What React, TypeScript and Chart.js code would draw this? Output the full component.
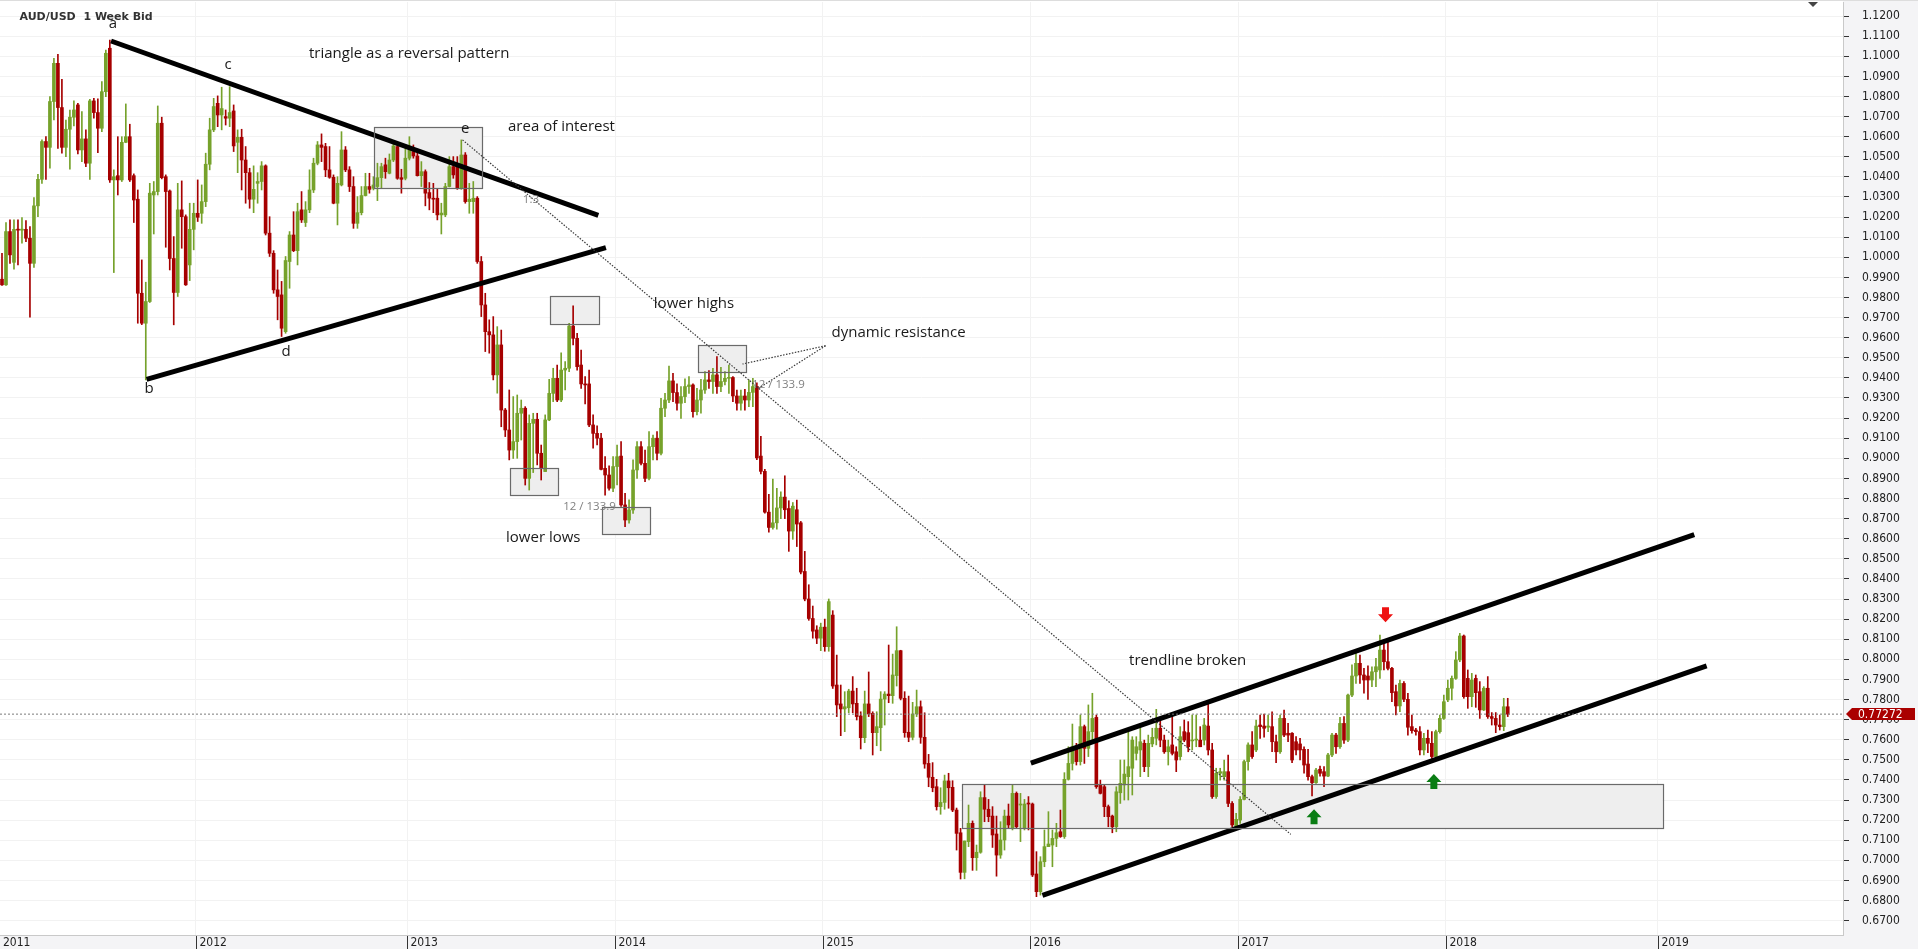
import React, { useEffect, useRef } from 'react';
import { Chart, registerables } from 'chart.js';

Chart.register(...registerables);

// ---------- DATA ----------
// Weekly AUD/USD bid candles: [open, high, low, close]; week index counted from the week of 2 Jan 2011
type Candle = [number, number, number, number];
const FIRST_WEEK = 3;

const weeks2011: Candle[] = [
  [0.9891,1.0020,0.9860,0.9863],[0.9863,1.0173,0.9860,1.0128],[1.0128,1.0186,0.9970,1.0012],[0.9975,1.0186,0.9941,1.0139],
  [1.0139,1.0186,0.9962,1.0135],[1.0135,1.0198,1.0070,1.0140],[1.0139,1.0183,1.0078,1.0095],[1.0095,1.0153,0.9702,0.9970],
  [0.9970,1.0297,0.9950,1.0256],[1.0256,1.0413,1.0202,1.0388],[1.0388,1.0584,1.0368,1.0576],[1.0576,1.0600,1.0388,1.0547],
  [1.0547,1.0799,1.0443,1.0775],[1.0775,1.0990,1.0683,1.0965],[1.0965,1.1010,1.0542,1.0745],[1.0745,1.0886,1.0518,1.0547],
  [1.0547,1.0683,1.0501,1.0637],[1.0637,1.0733,1.0438,1.0697],[1.0697,1.0778,1.0653,1.0733],[1.0758,1.0766,1.0514,1.0534],
  [1.0534,1.0725,1.0476,1.0589],[1.0589,1.0634,1.0451,1.0468],[1.0468,1.0786,1.0388,1.0778],[1.0778,1.0791,1.0692,1.0720],
  [1.0720,1.0788,1.0521,1.0642],[1.0642,1.0874,1.0625,1.0824],[1.0824,1.1031,1.0799,1.1015],[1.1040,1.1081,1.0372,1.0385],
  [1.0385,1.0435,0.9924,1.0401],[1.0406,1.0600,1.0310,1.0385],[1.0385,1.0600,1.0377,1.0572],[1.0572,1.0763,1.0570,1.0600],
  [1.0600,1.0662,1.0377,1.0385],[1.0406,1.0415,1.0173,1.0285],[1.0289,1.0335,0.9672,0.9821],[0.9821,0.9987,0.9665,0.9672],
  [0.9672,0.9876,0.9390,0.9780],[0.9780,1.0368,0.9775,1.0319],[1.0310,1.0377,1.0116,1.0327],[1.0327,1.0753,1.0310,1.0667],
  [1.0667,1.0697,1.0390,1.0396],[1.0401,1.0410,1.0050,1.0327],[1.0330,1.0335,0.9937,0.9994],[0.9994,1.0103,0.9664,0.9825],
  [0.9825,1.0368,0.9805,1.0236],[1.0236,1.0380,1.0045,1.0202],[1.0202,1.0211,0.9860,0.9863],[0.9962,1.0269,0.9884,1.0139],
  [1.0139,1.0269,1.0037,1.0219],
];

const weeks2012: Candle[] = [
  [1.0219,1.0385,1.0178,1.0199],[1.0219,1.0360,1.0169,1.0277],[1.0277,1.0518,1.0252,1.0463],[1.0463,1.0692,1.0435,1.0634],
  [1.0634,1.0791,1.0625,1.0750],[1.0766,1.0803,1.0650,1.0708],[1.0708,1.0846,1.0634,1.0740],[1.0700,1.0733,1.0658,1.0692],
  [1.0692,1.0849,1.0650,1.0720],[1.0728,1.0758,1.0526,1.0554],[1.0572,1.0634,1.0421,1.0597],[1.0597,1.0637,1.0335,1.0484],
  [1.0484,1.0551,1.0269,1.0421],[1.0421,1.0443,1.0244,1.0289],[1.0289,1.0455,1.0222,1.0338],[1.0368,1.0421,1.0269,1.0377],
  [1.0377,1.0476,1.0335,1.0455],[1.0455,1.0460,1.0111,1.0120],[1.0120,1.0202,1.0004,1.0020],[1.0020,1.0033,0.9821,0.9838],
  [0.9838,0.9937,0.9689,0.9805],[0.9813,0.9880,0.9606,0.9647],[0.9630,1.0004,0.9622,0.9984],[0.9979,1.0128,0.9846,1.0111],
  [1.0111,1.0227,1.0028,1.0033],[1.0033,1.0269,0.9962,1.0227],[1.0236,1.0327,1.0173,1.0186],[1.0173,1.0277,1.0153,1.0236],
  [1.0236,1.0435,1.0222,1.0335],[1.0335,1.0493,1.0322,1.0468],[1.0468,1.0576,1.0460,1.0559],[1.0559,1.0614,1.0476,1.0547],
  [1.0551,1.0567,1.0401,1.0435],[1.0435,1.0551,1.0393,1.0398],[1.0398,1.0410,1.0266,1.0269],[1.0269,1.0401,1.0161,1.0368],
  [1.0360,1.0625,1.0355,1.0534],[1.0534,1.0551,1.0426,1.0435],[1.0435,1.0451,1.0327,1.0352],[1.0352,1.0401,1.0144,1.0169],
  [1.0169,1.0302,1.0144,1.0222],[1.0222,1.0352,1.0211,1.0307],[1.0307,1.0418,1.0305,1.0352],[1.0352,1.0418,1.0319,1.0338],
  [1.0343,1.0401,1.0335,1.0360],[1.0352,1.0468,1.0282,1.0396],[1.0396,1.0468,1.0343,1.0451],[1.0460,1.0493,1.0393,1.0426],
  [1.0418,1.0514,1.0415,1.0484],[1.0484,1.0567,1.0476,1.0554],[1.0551,1.0559,1.0388,1.0393],[1.0396,1.0438,1.0319,1.0388],
  [1.0393,1.0542,1.0385,1.0493],
];

const weeks2013: Candle[] = [
  [1.0493,1.0600,1.0484,1.0534],[1.0526,1.0559,1.0493,1.0504],[1.0504,1.0518,1.0404,1.0406],[1.0406,1.0476,1.0352,1.0426],
  [1.0426,1.0435,1.0256,1.0319],[1.0322,1.0372,1.0236,1.0294],[1.0294,1.0368,1.0222,1.0289],[1.0294,1.0338,1.0186,1.0211],
  [1.0211,1.0269,1.0116,1.0220],[1.0211,1.0368,1.0202,1.0352],[1.0352,1.0501,1.0350,1.0451],[1.0451,1.0501,1.0393,1.0410],
  [1.0455,1.0501,1.0338,1.0343],[1.0343,1.0584,1.0338,1.0509],[1.0509,1.0521,1.0269,1.0277],[1.0277,1.0368,1.0219,1.0289],
  [1.0277,1.0377,1.0219,1.0294],[1.0294,1.0302,0.9970,0.9979],[0.9979,1.0004,0.9705,0.9763],[0.9763,0.9821,0.9531,0.9630],
  [0.9630,0.9689,0.9523,0.9614],[0.9614,0.9705,0.9390,0.9415],[0.9415,0.9655,0.9324,0.9564],[0.9564,0.9638,0.9157,0.9240],
  [0.9240,0.9248,0.9108,0.9141],[0.9141,0.9340,0.8992,0.9041],[0.9041,0.9307,0.8999,0.9083],[0.9083,0.9315,0.9000,0.9224],
  [0.9224,0.9290,0.9091,0.9249],[0.9249,0.9257,0.8867,0.8900],[0.8900,0.9216,0.8842,0.9174],[0.9174,0.9224,0.8929,0.9194],
  [0.9194,0.9224,0.8967,0.9025],[0.9025,0.9066,0.8892,0.8950],[0.8934,0.9216,0.8934,0.9191],[0.9191,0.9393,0.9187,0.9323],
  [0.9323,0.9448,0.9282,0.9398],[0.9398,0.9464,0.9282,0.9290],[0.9290,0.9525,0.9282,0.9439],[0.9439,0.9481,0.9340,0.9448],
  [0.9448,0.9671,0.9431,0.9658],[0.9658,0.9758,0.9564,0.9597],[0.9597,0.9622,0.9439,0.9456],[0.9464,0.9539,0.9348,0.9370],
  [0.9370,0.9406,0.9270,0.9365],[0.9370,0.9439,0.9157,0.9166],[0.9166,0.9216,0.9050,0.9124],[0.9124,0.9161,0.9066,0.9100],
  [0.9100,0.9124,0.8942,0.8945],[0.8950,0.9008,0.8817,0.8917],[0.8917,0.8962,0.8842,0.8851],[0.8851,0.9008,0.8834,0.8959],
];

const weeks2014: Candle[] = [
  [0.8959,0.9066,0.8867,0.9008],[0.9011,0.9083,0.8760,0.8768],[0.8768,0.8826,0.8660,0.8693],[0.8693,0.8793,0.8677,0.8743],
  [0.8743,0.8992,0.8726,0.8942],[0.8942,0.9083,0.8900,0.9058],[0.9058,0.9083,0.8967,0.8975],[0.8975,0.9041,0.8884,0.8900],
  [0.8900,0.9133,0.8892,0.9058],[0.9058,0.9116,0.8992,0.9100],[0.9100,0.9133,0.8992,0.9025],[0.9025,0.9298,0.9017,0.9249],
  [0.9249,0.9323,0.9207,0.9290],[0.9290,0.9459,0.9277,0.9385],[0.9385,0.9423,0.9282,0.9327],[0.9327,0.9370,0.9240,0.9274],
  [0.9274,0.9357,0.9199,0.9307],[0.9307,0.9395,0.9277,0.9357],[0.9357,0.9406,0.9323,0.9365],[0.9365,0.9370,0.9204,0.9232],
  [0.9232,0.9348,0.9216,0.9290],[0.9290,0.9393,0.9224,0.9340],[0.9340,0.9431,0.9323,0.9390],[0.9390,0.9436,0.9348,0.9382],
  [0.9382,0.9448,0.9323,0.9415],[0.9415,0.9506,0.9323,0.9357],[0.9357,0.9453,0.9332,0.9382],[0.9382,0.9431,0.9365,0.9398],
  [0.9398,0.9464,0.9323,0.9402],[0.9402,0.9406,0.9282,0.9310],[0.9310,0.9340,0.9240,0.9274],[0.9274,0.9340,0.9240,0.9310],
  [0.9310,0.9343,0.9240,0.9290],[0.9290,0.9390,0.9257,0.9328],[0.9328,0.9398,0.9257,0.9357],[0.9358,0.9375,0.8993,0.9002],
  [0.9011,0.9109,0.8922,0.8935],[0.8935,0.8945,0.8727,0.8732],[0.8732,0.8821,0.8633,0.8656],[0.8656,0.8896,0.8647,0.8679],
  [0.8679,0.8851,0.8647,0.8753],[0.8753,0.8833,0.8700,0.8807],[0.8807,0.8913,0.8700,0.8744],[0.8750,0.8789,0.8537,0.8638],
  [0.8638,0.8780,0.8597,0.8762],[0.8744,0.8792,0.8561,0.8673],[0.8679,0.8686,0.8425,0.8434],[0.8437,0.8537,0.8291,0.8300],
  [0.8300,0.8371,0.8194,0.8203],[0.8203,0.8265,0.8105,0.8140],[0.8146,0.8167,0.8078,0.8105],[0.8105,0.8180,0.8043,0.8160],
];

const weeks2015: Candle[] = [
  [0.8160,0.8200,0.8040,0.8063],[0.8063,0.8300,0.8040,0.8287],[0.8220,0.8242,0.7855,0.7867],[0.7872,0.8021,0.7715,0.7773],
  [0.7778,0.7872,0.7620,0.7753],[0.7753,0.7839,0.7640,0.7764],[0.7759,0.7851,0.7734,0.7842],[0.7842,0.7914,0.7734,0.7778],
  [0.7781,0.7856,0.7698,0.7715],[0.7718,0.7739,0.7554,0.7610],[0.7610,0.7842,0.7585,0.7778],[0.7778,0.7937,0.7715,0.7728],
  [0.7731,0.7739,0.7524,0.7635],[0.7635,0.7739,0.7570,0.7665],[0.7660,0.7839,0.7545,0.7802],[0.7802,0.7839,0.7673,0.7827],
  [0.7827,0.8071,0.7784,0.7819],[0.7819,0.8026,0.7781,0.7922],[0.7919,0.8162,0.7867,0.8043],[0.8043,0.8045,0.7798,0.7806],
  [0.7806,0.7839,0.7612,0.7635],[0.7637,0.7817,0.7590,0.7612],[0.7612,0.7786,0.7599,0.7728],[0.7728,0.7847,0.7715,0.7764],
  [0.7764,0.7793,0.7582,0.7612],[0.7612,0.7734,0.7458,0.7479],[0.7482,0.7527,0.7366,0.7413],[0.7413,0.7486,0.7341,0.7361],
  [0.7366,0.7403,0.7250,0.7267],[0.7267,0.7361,0.7229,0.7288],[0.7288,0.7424,0.7254,0.7395],[0.7395,0.7433,0.7259,0.7361],
  [0.7363,0.7396,0.7242,0.7250],[0.7250,0.7260,0.7051,0.7134],[0.7137,0.7159,0.6907,0.6940],[0.6940,0.7096,0.6908,0.7096],
  [0.7093,0.7275,0.7068,0.7184],[0.7184,0.7196,0.6950,0.7013],[0.7013,0.7076,0.6950,0.7040],[0.7040,0.7341,0.7035,0.7312],
  [0.7312,0.7375,0.7192,0.7254],[0.7254,0.7303,0.7192,0.7217],[0.7220,0.7267,0.7064,0.7126],[0.7131,0.7220,0.6921,0.7026],
  [0.7026,0.7192,0.7010,0.7101],[0.7101,0.7250,0.7051,0.7220],[0.7220,0.7280,0.7159,0.7176],[0.7159,0.7375,0.7151,0.7333],
  [0.7333,0.7340,0.7159,0.7167],[0.7275,0.7333,0.7093,0.7280],[0.7159,0.7303,0.7151,0.7280],[0.7283,0.7317,0.7151,0.7280],
];

const weeks2016: Candle[] = [
  [0.7280,0.7285,0.6919,0.6927],[0.6932,0.7043,0.6819,0.6844],[0.6844,0.7018,0.6827,0.6993],[0.6993,0.7151,0.6968,0.7068],
  [0.7068,0.7242,0.7068,0.7081],[0.7076,0.7151,0.6968,0.7109],[0.7109,0.7184,0.7068,0.7137],[0.7142,0.7250,0.7114,0.7118],
  [0.7118,0.7436,0.7109,0.7403],[0.7403,0.7565,0.7399,0.7482],[0.7482,0.7678,0.7449,0.7565],[0.7565,0.7582,0.7474,0.7491],
  [0.7491,0.7723,0.7474,0.7665],[0.7665,0.7673,0.7482,0.7557],[0.7557,0.7773,0.7516,0.7640],[0.7640,0.7831,0.7582,0.7706],
  [0.7711,0.7723,0.7358,0.7366],[0.7375,0.7399,0.7330,0.7333],[0.7366,0.7375,0.7217,0.7267],[0.7267,0.7275,0.7167,0.7217],
  [0.7220,0.7225,0.7137,0.7167],[0.7167,0.7366,0.7142,0.7341],[0.7336,0.7499,0.7283,0.7383],[0.7375,0.7499,0.7300,0.7429],
  [0.7416,0.7648,0.7300,0.7466],[0.7458,0.7615,0.7325,0.7598],[0.7532,0.7615,0.7499,0.7565],[0.7549,0.7665,0.7416,0.7590],
  [0.7582,0.7598,0.7441,0.7466],[0.7466,0.7623,0.7416,0.7582],[0.7579,0.7657,0.7565,0.7612],[0.7607,0.7751,0.7574,0.7657],
  [0.7657,0.7698,0.7565,0.7598],[0.7598,0.7623,0.7532,0.7540],[0.7540,0.7598,0.7474,0.7565],[0.7574,0.7723,0.7524,0.7532],
  [0.7540,0.7565,0.7441,0.7499],[0.7516,0.7665,0.7499,0.7615],[0.7640,0.7698,0.7590,0.7598],[0.7635,0.7690,0.7540,0.7565],
  [0.7594,0.7723,0.7549,0.7598],[0.7598,0.7723,0.7565,0.7600],[0.7598,0.7665,0.7565,0.7565],[0.7598,0.7706,0.7574,0.7673],
  [0.7668,0.7778,0.7524,0.7549],[0.7549,0.7582,0.7308,0.7317],[0.7317,0.7458,0.7308,0.7433],[0.7433,0.7458,0.7399,0.7441],
  [0.7416,0.7499,0.7399,0.7441],[0.7441,0.7524,0.7267,0.7283],[0.7283,0.7292,0.7167,0.7176],[0.7167,0.7234,0.7159,0.7204],
];

const weeks2017: Candle[] = [
  [0.7200,0.7317,0.7184,0.7303],[0.7303,0.7499,0.7300,0.7491],[0.7491,0.7585,0.7449,0.7574],[0.7574,0.7640,0.7507,0.7516],
  [0.7549,0.7698,0.7540,0.7668],[0.7673,0.7723,0.7607,0.7665],[0.7668,0.7728,0.7612,0.7657],[0.7662,0.7723,0.7640,0.7668],
  [0.7665,0.7739,0.7540,0.7590],[0.7590,0.7623,0.7486,0.7540],[0.7540,0.7723,0.7532,0.7706],[0.7706,0.7748,0.7615,0.7623],
  [0.7632,0.7681,0.7590,0.7623],[0.7632,0.7635,0.7486,0.7499],[0.7590,0.7615,0.7524,0.7549],[0.7579,0.7607,0.7499,0.7549],
  [0.7552,0.7565,0.7433,0.7474],[0.7479,0.7552,0.7399,0.7416],[0.7416,0.7424,0.7320,0.7386],[0.7386,0.7458,0.7383,0.7449],
  [0.7453,0.7469,0.7419,0.7433],[0.7441,0.7466,0.7366,0.7419],[0.7419,0.7532,0.7416,0.7524],[0.7524,0.7632,0.7516,0.7623],
  [0.7623,0.7632,0.7532,0.7565],[0.7565,0.7711,0.7557,0.7681],[0.7681,0.7715,0.7582,0.7598],[0.7598,0.7827,0.7590,0.7822],
  [0.7822,0.7972,0.7814,0.7917],[0.7917,0.8030,0.7880,0.7980],[0.7980,0.8021,0.7880,0.7922],[0.7922,0.7955,0.7831,0.7897],
  [0.7917,0.7967,0.7801,0.7897],[0.7897,0.7963,0.7864,0.7938],[0.7938,0.8005,0.7864,0.7963],[0.7947,0.8121,0.7905,0.8046],
  [0.8046,0.8088,0.7947,0.7988],[0.7988,0.8088,0.7947,0.7955],[0.7955,0.7960,0.7789,0.7834],[0.7839,0.7872,0.7723,0.7768],
  [0.7768,0.7897,0.7739,0.7880],[0.7880,0.7889,0.7789,0.7801],[0.7801,0.7831,0.7623,0.7662],[0.7665,0.7723,0.7632,0.7645],
  [0.7648,0.7657,0.7623,0.7640],[0.7640,0.7665,0.7524,0.7549],[0.7549,0.7632,0.7524,0.7607],[0.7607,0.7648,0.7535,0.7582],
  [0.7582,0.7640,0.7507,0.7516],[0.7516,0.7648,0.7507,0.7640],[0.7640,0.7723,0.7632,0.7706],[0.7706,0.7822,0.7701,0.7789],
];

const weeks2018: Candle[] = [
  [0.7798,0.7897,0.7789,0.7856],[0.7856,0.7917,0.7798,0.7905],[0.7905,0.8038,0.7900,0.7997],[0.7997,0.8129,0.7988,0.8116],
  [0.8116,0.8121,0.7806,0.7814],[0.7905,0.7947,0.7756,0.7814],[0.7814,0.7930,0.7764,0.7897],[0.7905,0.7922,0.7761,0.7834],
  [0.7839,0.7889,0.7706,0.7748],[0.7748,0.7864,0.7745,0.7856],[0.7856,0.7914,0.7706,0.7715],[0.7715,0.7735,0.7673,0.7706],
  [0.7706,0.7735,0.7635,0.7673],[0.7673,0.7723,0.7648,0.7665],[0.7665,0.7806,0.7645,0.7764],[0.7764,0.7806,0.7715,0.7727],
];

const lastPrice = 0.77272;

// Axis ticks
const priceTickMin = 0.67;
const priceTickMax = 1.12;
const firstYearLabel = '2011';
const yearTickWeeks = [51.5, 104.5, 156.5, 208.5, 260.5, 312.5, 364.5, 417.5];
const yearTickLabels = ['2012', '2013', '2014', '2015', '2016', '2017', '2018', '2019'];

// Drawing annotations (in week index / price units)
const triangleUpper = [[30.3, 1.1076], [152.3, 1.0209]];
const triangleLower = [[39.2, 0.9393], [154.2, 1.0048]];
const channelUpper = [[260.6, 0.7483], [426.7, 0.862]];
const channelLower = [[263.5, 0.6826], [429.8, 0.7967]];
const brokenTrend = [[118.3, 1.0584], [325.7, 0.7129]];
const resistanceLink1 = [[209.2, 0.956], [188.4, 0.9469]];
const resistanceLink2 = [[209.2, 0.956], [192.4, 0.9348]];

const boxX0 = [96.2, 140.3, 177.3, 130.3, 153.3, 243.4];
const boxX1 = [123.3, 152.4, 189.4, 142.3, 165.3, 418.8];
const boxTop = [1.0647, 0.9806, 0.9562, 0.895, 0.8756, 0.7378];
const boxBottom = [1.0343, 0.967, 0.9428, 0.8817, 0.8623, 0.7159];

const noteTexts = ['triangle as a reversal pattern', 'area of interest', 'lower highs', 'dynamic resistance', 'lower lows', 'trendline broken'];
const noteWeeks = [79.87, 129.7, 166.2, 210.7, 129.2, 285.2];
const notePrices = [1.1011, 1.0648, 0.9768, 0.9626, 0.8606, 0.7992];

const pointLetters = ['a', 'b', 'c', 'd', 'e'];
const letterWeeks = [30.8, 39.8, 59.6, 74.1, 119.0];
const letterPrices = [1.1161, 0.9344, 1.0956, 0.9529, 1.0638];

const ratioTexts = ['1:3', '12 / 133.9', '12 / 133.9'];
const ratioWeeks = [133.4, 143.5, 190.8];
const ratioPrices = [1.0285, 0.8758, 0.9364];

const arrowWeeks = [349.4, 331.5, 361.5];
const arrowPrices = [0.8184, 0.7254, 0.7429];
const arrowDirs = ['down', 'up', 'up'];

// ---------- STYLE ----------
const UP = '#76a22b';
const DOWN = '#a60000';
const AXIS_FONT = '"DejaVu Sans Condensed", "Liberation Sans Narrow", "DejaVu Sans", sans-serif';
const NOTE_FONT = '"Open Sans", "DejaVu Sans", sans-serif';

const candles: Candle[] = [
  ...weeks2011, ...weeks2012, ...weeks2013, ...weeks2014,
  ...weeks2015, ...weeks2016, ...weeks2017, ...weeks2018,
];

const X_MIN = 2.5;
const X_MAX = 463.94;
const Y_MIN = 0.66284;
const Y_MAX = 1.12701;

const toPts = (seg: number[][]) => seg.map(([x, y]) => ({ x, y }));

const overlay = {
  id: 'overlay',
  beforeDraw(chart: any) {
    const { ctx, chartArea: a, width, height } = chart;
    ctx.save();
    ctx.fillStyle = '#ffffff';
    ctx.fillRect(0, 0, width, height);
    ctx.fillStyle = '#f4f4f6';
    ctx.fillRect(a.right, 0, width - a.right, height);
    ctx.fillRect(0, a.bottom, width, height - a.bottom);
    ctx.restore();
  },
  beforeDatasetsDraw(chart: any) {
    const { ctx } = chart;
    const xs = chart.scales.x, ys = chart.scales.y;
    ctx.save();
    ctx.fillStyle = '#eeeeee';
    for (let i = 0; i < boxX0.length; i++) {
      const x0 = xs.getPixelForValue(boxX0[i]);
      const x1 = xs.getPixelForValue(boxX1[i]);
      const y0 = ys.getPixelForValue(boxTop[i]);
      const y1 = ys.getPixelForValue(boxBottom[i]);
      ctx.fillRect(x0, y0, x1 - x0, y1 - y0);
    }
    ctx.restore();
  },
  afterDatasetsDraw(chart: any) {
    const { ctx, chartArea: a, width, height } = chart;
    const xs = chart.scales.x, ys = chart.scales.y;
    ctx.save();
    // box borders
    ctx.strokeStyle = '#6a6a6a';
    ctx.lineWidth = 1.2;
    for (let i = 0; i < boxX0.length; i++) {
      const x0 = Math.round(xs.getPixelForValue(boxX0[i])) + 0.5;
      const x1 = Math.round(xs.getPixelForValue(boxX1[i])) + 0.5;
      const y0 = Math.round(ys.getPixelForValue(boxTop[i])) + 0.5;
      const y1 = Math.round(ys.getPixelForValue(boxBottom[i])) + 0.5;
      ctx.strokeRect(x0, y0, x1 - x0, y1 - y0);
    }
    // notes
    ctx.fillStyle = '#1a1a1a';
    ctx.font = `15px ${NOTE_FONT}`;
    ctx.textAlign = 'left';
    ctx.textBaseline = 'middle';
    noteTexts.forEach((t, i) => {
      ctx.fillText(t, xs.getPixelForValue(noteWeeks[i]), ys.getPixelForValue(notePrices[i]));
    });
    ctx.textAlign = 'center';
    pointLetters.forEach((t, i) => {
      ctx.fillText(t, xs.getPixelForValue(letterWeeks[i]), ys.getPixelForValue(letterPrices[i]));
    });
    ctx.fillStyle = '#808080';
    ctx.font = `11.5px ${NOTE_FONT}`;
    ctx.textAlign = 'left';
    ratioTexts.forEach((t, i) => {
      ctx.fillText(t, xs.getPixelForValue(ratioWeeks[i]), ys.getPixelForValue(ratioPrices[i]));
    });
    // arrows
    arrowWeeks.forEach((w, i) => {
      const x = xs.getPixelForValue(w);
      const y = ys.getPixelForValue(arrowPrices[i]);
      const s = arrowDirs[i] === 'down' ? -1 : 1;
      ctx.fillStyle = arrowDirs[i] === 'down' ? '#ee1111' : '#0a7d14';
      ctx.beginPath();
      ctx.moveTo(x, y);
      ctx.lineTo(x - 7.5, y + s * 8);
      ctx.lineTo(x - 3.5, y + s * 8);
      ctx.lineTo(x - 3.5, y + s * 15);
      ctx.lineTo(x + 3.5, y + s * 15);
      ctx.lineTo(x + 3.5, y + s * 8);
      ctx.lineTo(x + 7.5, y + s * 8);
      ctx.closePath();
      ctx.fill();
    });
    // x axis labels with tick lines
    ctx.font = `12px ${AXIS_FONT}`;
    ctx.fillStyle = '#222';
    ctx.textAlign = 'left';
    ctx.textBaseline = 'middle';
    const ly = (a.bottom + height) / 2 + 0.5;
    ctx.fillText(firstYearLabel, a.left + 3, ly);
    ctx.strokeStyle = '#333';
    ctx.lineWidth = 1;
    yearTickWeeks.forEach((w, i) => {
      const px = Math.round(xs.getPixelForValue(w)) + 0.5;
      ctx.beginPath();
      ctx.moveTo(px, a.bottom + 1);
      ctx.lineTo(px, height);
      ctx.stroke();
      ctx.fillText(yearTickLabels[i], px + 3, ly);
    });
    // current price label
    const py = Math.round(ys.getPixelForValue(lastPrice));
    ctx.fillStyle = '#aa0000';
    ctx.beginPath();
    ctx.moveTo(a.right + 3, py);
    ctx.lineTo(a.right + 9, py - 6);
    ctx.lineTo(width - 3, py - 6);
    ctx.lineTo(width - 3, py + 6);
    ctx.lineTo(a.right + 9, py + 6);
    ctx.closePath();
    ctx.fill();
    ctx.fillStyle = '#ffffff';
    ctx.font = `12px ${AXIS_FONT}`;
    ctx.fillText(lastPrice.toFixed(5), a.right + 15, py + 0.5);
    // title
    ctx.fillStyle = '#333';
    ctx.font = `bold 11px "DejaVu Sans", sans-serif`;
    ctx.fillText('AUD/USD  1 Week Bid', 19.5, 17);
    // top border + menu triangle
    ctx.fillStyle = '#dddddd';
    ctx.fillRect(0, 0, width, 1);
    ctx.fillStyle = '#444';
    ctx.beginPath();
    ctx.moveTo(1808, 2);
    ctx.lineTo(1818, 2);
    ctx.lineTo(1813, 7);
    ctx.closePath();
    ctx.fill();
    ctx.restore();
  },
};

export default function App() {
  const ref = useRef<HTMLCanvasElement | null>(null);

  useEffect(() => {
    if (!ref.current) return;
    const colors = candles.map((c) => (c[3] >= c[0] ? UP : DOWN));
    const thickLine = (seg: number[][]) => ({
      type: 'line' as const,
      data: toPts(seg),
      borderColor: '#000',
      borderWidth: 5,
      pointRadius: 0,
      fill: false,
      tension: 0,
      order: 0,
    });
    const dotLine = (seg: number[][], dash: number[], color: string, w: number) => ({
      type: 'line' as const,
      data: toPts(seg),
      borderColor: color,
      borderWidth: w,
      borderDash: dash,
      pointRadius: 0,
      fill: false,
      tension: 0,
      order: 0,
    });

    const chart = new Chart(ref.current, {
      type: 'bar',
      data: {
        datasets: [
          {
            type: 'bar',
            data: candles.map((c, i) => ({ x: FIRST_WEEK + i, y: [c[2], c[1]] })) as any,
            backgroundColor: colors,
            barThickness: 1,
            grouped: false,
            order: 3,
          } as any,
          {
            type: 'bar',
            data: candles.map((c, i) => ({ x: FIRST_WEEK + i, y: [c[0], c[3]] })) as any,
            backgroundColor: colors,
            barThickness: 3,
            minBarLength: 1,
            grouped: false,
            order: 2,
          } as any,
          dotLine([[X_MIN, lastPrice], [X_MAX, lastPrice]], [2, 2], '#7a7a7a', 1) as any,
          dotLine(brokenTrend, [1.5, 1.5], '#3a3a3a', 1.2) as any,
          dotLine(resistanceLink1, [1.5, 1.5], '#3a3a3a', 1.2) as any,
          dotLine(resistanceLink2, [1.5, 1.5], '#3a3a3a', 1.2) as any,
          thickLine(triangleUpper) as any,
          thickLine(triangleLower) as any,
          thickLine(channelUpper) as any,
          thickLine(channelLower) as any,
        ],
      },
      options: {
        responsive: false,
        animation: false,
        events: [],
        layout: { padding: { top: 2, left: 0, right: 0, bottom: 0 } },
        plugins: { legend: { display: false }, tooltip: { enabled: false } },
        scales: {
          x: {
            type: 'linear',
            position: 'bottom',
            min: X_MIN,
            max: X_MAX,
            offset: false,
            grid: { offset: false, color: '#f2f2f2', drawTicks: false },
            border: { display: true, color: '#c9c9c9' },
            ticks: { display: false },
            afterBuildTicks: (s: any) => {
              s.ticks = yearTickWeeks.map((v) => ({ value: v }));
            },
            afterFit: (s: any) => {
              s.height = 14;
              s.paddingLeft = 0; s.paddingRight = 0; s.paddingTop = 0; s.paddingBottom = 0;
            },
          },
          y: {
            type: 'linear',
            position: 'right',
            min: Y_MIN,
            max: Y_MAX,
            beginAtZero: false,
            grid: { color: '#f2f2f2', tickColor: '#333', tickLength: 6, drawTicks: true },
            border: { display: true, color: '#c9c9c9' },
            ticks: {
              autoSkip: false,
              padding: 13,
              color: '#222',
              font: { family: AXIS_FONT, size: 12 },
              callback: (v: any) => Number(v).toFixed(4),
            },
            afterBuildTicks: (s: any) => {
              const t = [];
              for (let k = Math.round(priceTickMin * 100); k <= Math.round(priceTickMax * 100); k++) {
                t.push({ value: k / 100 });
              }
              s.ticks = t;
            },
            afterFit: (s: any) => {
              s.width = 75;
              s.paddingLeft = 0; s.paddingRight = 0; s.paddingTop = 0; s.paddingBottom = 0;
            },
          },
        },
      } as any,
      plugins: [overlay],
    });
    return () => chart.destroy();
  }, []);

  return (
    <div style={{ position: 'absolute', left: 0, top: 0, width: 1918, height: 949 }}>
      <canvas ref={ref} width={1918} height={949} style={{ display: 'block' }} />
    </div>
  );
}
